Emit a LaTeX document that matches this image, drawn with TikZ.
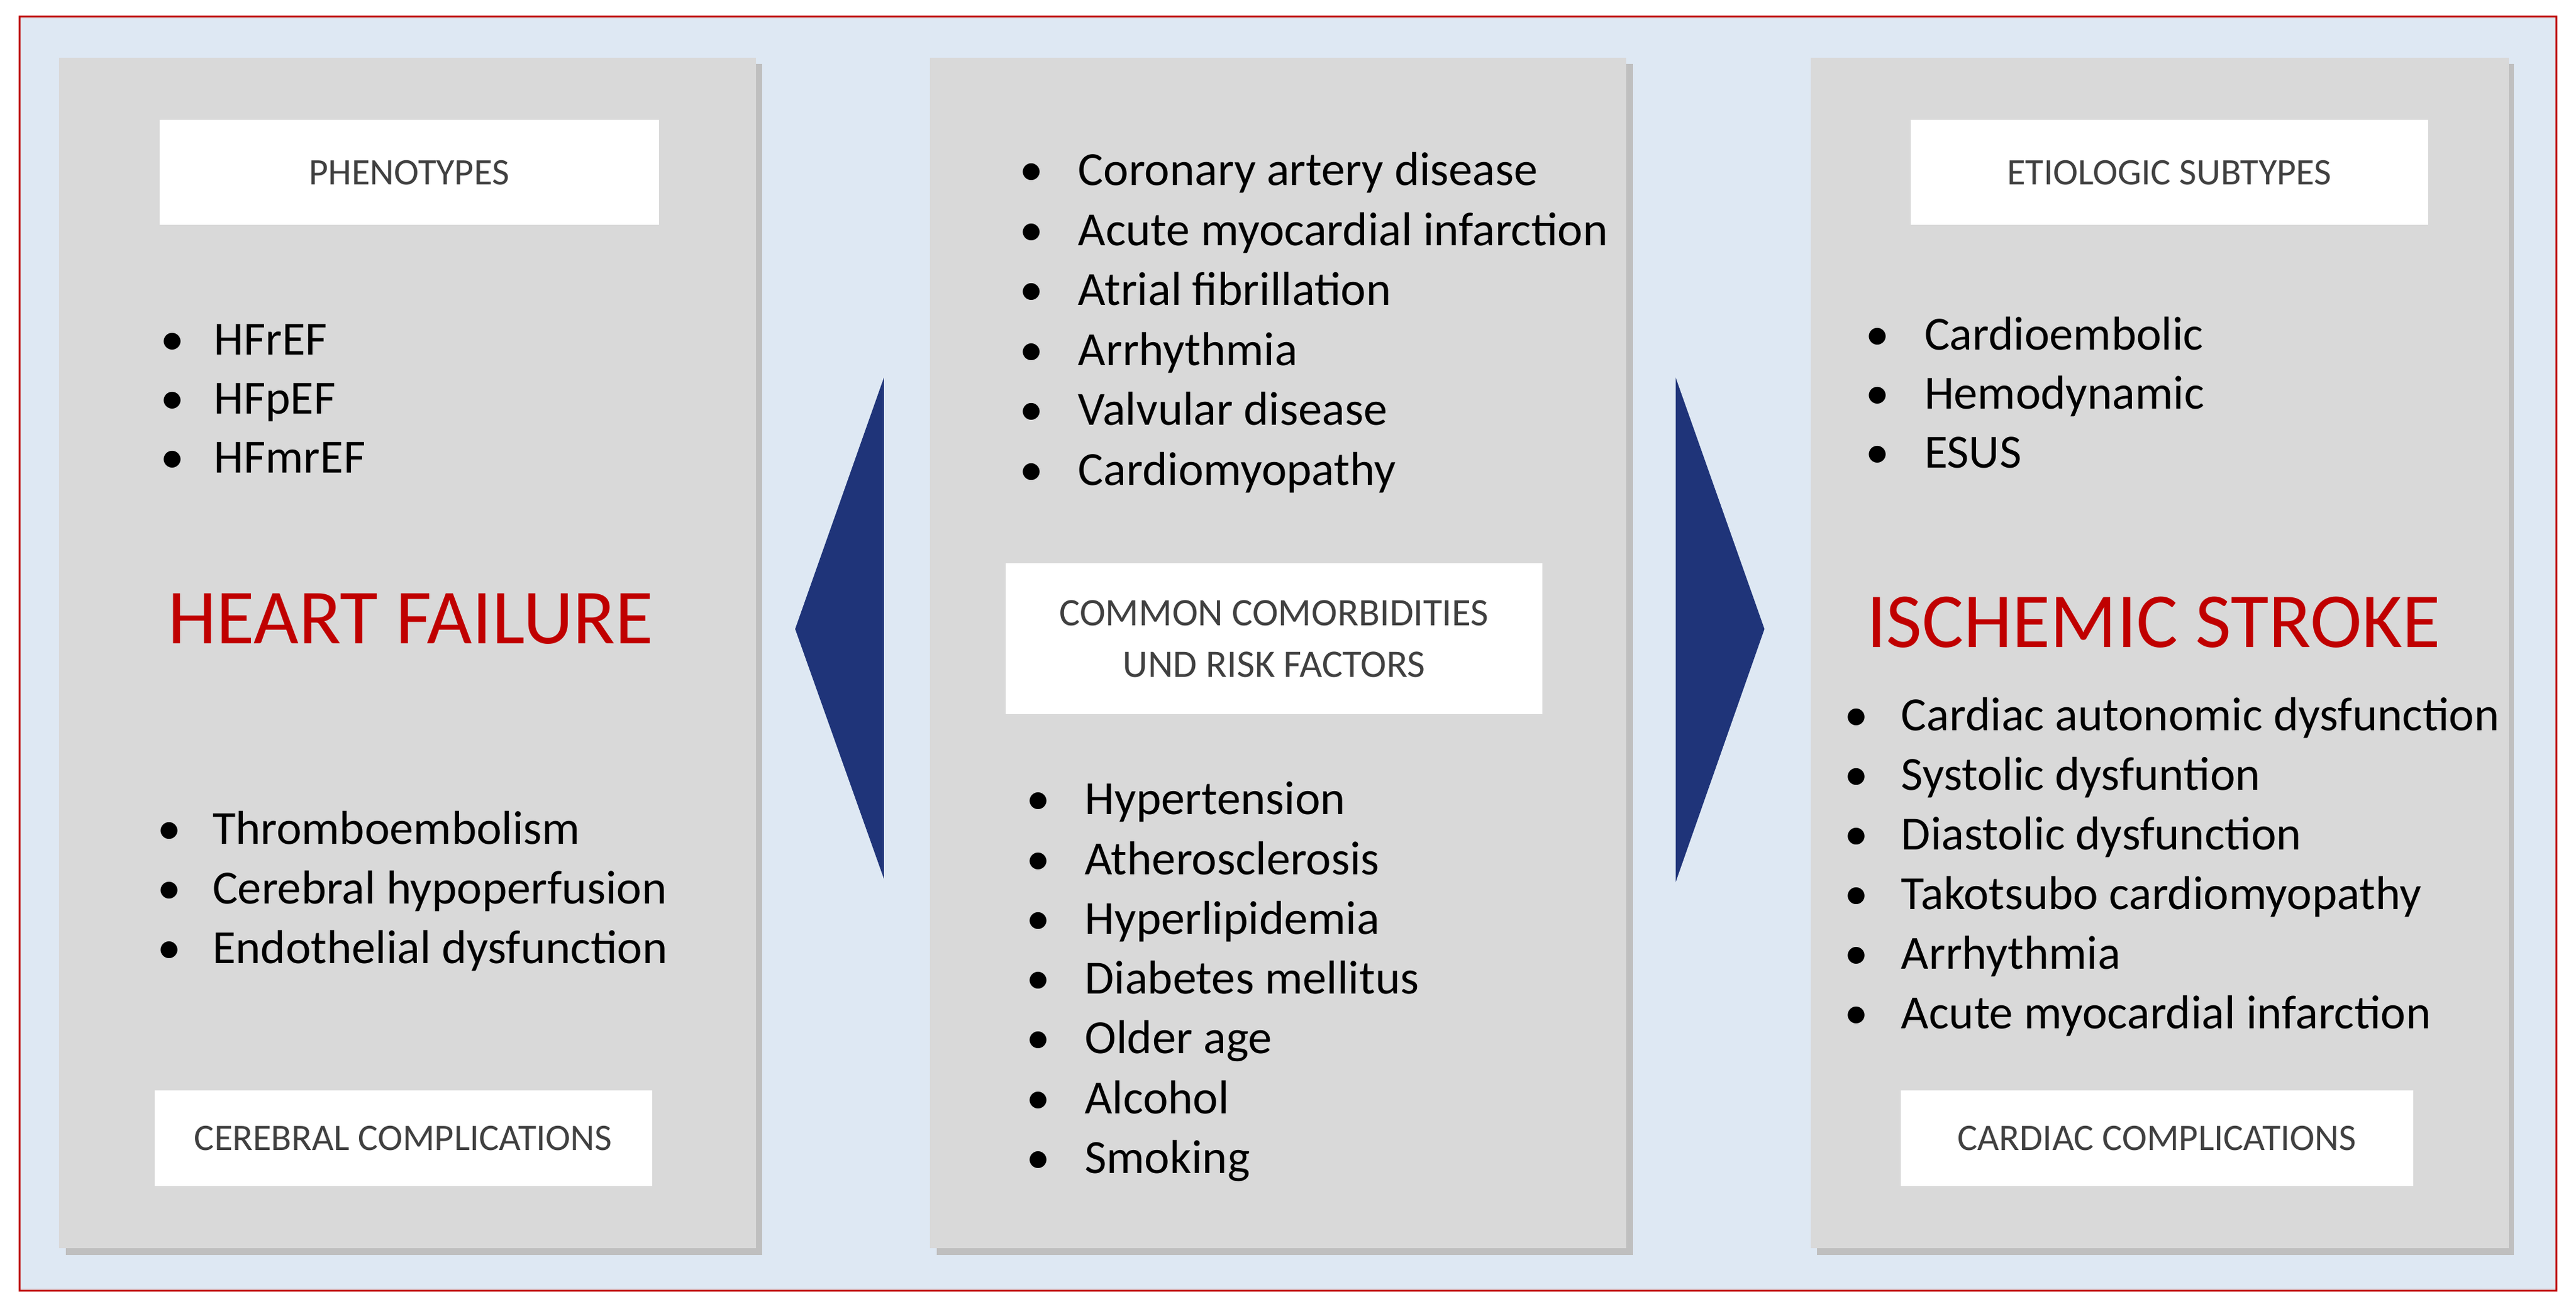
\documentclass[tikz,border=0pt]{standalone}
\usepackage{fontspec}
\setmainfont{Carlito}
\begin{document}
\begin{tikzpicture}[x=0.02cm,y=-0.02cm,
  panel/.style={fill=panelgray,draw=none},
  hdr/.style={fill=white,draw=none,font=\fontsize{13}{15.6}\selectfont,text=hdrtext,align=center},
  item/.style={anchor=base west,font=\fontsize{16.5}{20}\selectfont,text=black,inner sep=0},
  bul/.style={anchor=base,font=\fontsize{16.5}{20}\selectfont,inner sep=0},
  big/.style={font=\fontsize{27}{32}\selectfont,text=titlered},
  arr/.style={fill=arrowblue,draw=none}]
\definecolor{bgblue}{HTML}{DEE8F3}
\definecolor{panelgray}{HTML}{D9D9D9}
\definecolor{hdrtext}{HTML}{404040}
\definecolor{titlered}{HTML}{C00000}
\definecolor{arrowblue}{HTML}{1F3479}
\useasboundingbox (0,0) rectangle (1568,797);
\fill[white] (0,0) rectangle (1568,797);
\draw[fill=bgblue,draw=titlered,line width=0.6pt] (12,10) rectangle (1556,786);
% shadows
\foreach \x in {36,566,1102}{
  \fill[black!25] (\x+4,39) rectangle (\x+428,764);
}
\fill[panel] (36,35) rectangle (460,760);
\fill[panel] (566,35) rectangle (990,760);
\fill[panel] (1102,35) rectangle (1527,760);
% headers
\node[hdr,minimum width=304*0.02cm,minimum height=64*0.02cm] (pheno) at (249,105) {PHENOTYPES};
\node[hdr,minimum width=303*0.02cm,minimum height=58*0.02cm] (cerebral) at (245.5,693) {CEREBRAL COMPLICATIONS};
\node[hdr,minimum width=315*0.02cm,minimum height=64*0.02cm] (etio) at (1320.5,105) {ETIOLOGIC SUBTYPES};
\node[hdr,minimum width=312*0.02cm,minimum height=58*0.02cm] (cardiac) at (1313,693) {CARDIAC COMPLICATIONS};
\node[hdr,minimum width=327*0.02cm,minimum height=92*0.02cm,font=\fontsize{13.5}{18}\selectfont] (common) at (775.5,389) {COMMON COMORBIDITIES\\UND RISK FACTORS};
% titles
\node[big] (hf) at (250,377) {HEART FAILURE};
\node[big] (is) at (1311,379) {ISCHEMIC STROKE};
% arrows
\coordinate (la) at (484,383);
\fill[arr] (la) -- (538,230) -- (538,535) -- cycle;
\coordinate (ra) at (1074,383);
\fill[arr] (ra) -- (1020,230) -- (1020,537) -- cycle;
% lists
\foreach \t [count=\i from 0] in {HFrEF,HFpEF,HFmrEF}{
  \node[bul] (lb\i) at (105,216+36*\i) {•};
  \node[item] (lt\i) at (130,216+36*\i) {\t};}
\foreach \t [count=\i from 0] in {Thromboembolism,Cerebral hypoperfusion,Endothelial dysfunction}{
  \node[bul] (lcb\i) at (103,514+36.3*\i) {•};
  \node[item] (lct\i) at (129,514+36.3*\i) {\t};}
\foreach \t [count=\i from 0] in {Coronary artery disease,Acute myocardial infarction,Atrial fibrillation,Arrhythmia,Valvular disease,Cardiomyopathy}{
  \node[bul] (mb\i) at (628,113+36.5*\i) {•};
  \node[item] (mt\i) at (656,113+36.5*\i) {\t};}
\foreach \t [count=\i from 0] in {Hypertension,Atherosclerosis,Hyperlipidemia,Diabetes mellitus,Older age,Alcohol,Smoking}{
  \node[bul] (mcb\i) at (632,496+36.4*\i) {•};
  \node[item] (mct\i) at (660,496+36.4*\i) {\t};}
\foreach \t [count=\i from 0] in {Cardioembolic,Hemodynamic,ESUS}{
  \node[bul] (rb\i) at (1143,213+36*\i) {•};
  \node[item] (rt\i) at (1171,213+36*\i) {\t};}
\foreach \t [count=\i from 0] in {Cardiac autonomic dysfunction,Systolic dysfuntion,Diastolic dysfunction,Takotsubo cardiomyopathy,Arrhythmia,Acute myocardial infarction}{
  \node[bul] (rcb\i) at (1130,445+36.3*\i) {•};
  \node[item] (rct\i) at (1157,445+36.3*\i) {\t};}
\end{tikzpicture}
\end{document}
